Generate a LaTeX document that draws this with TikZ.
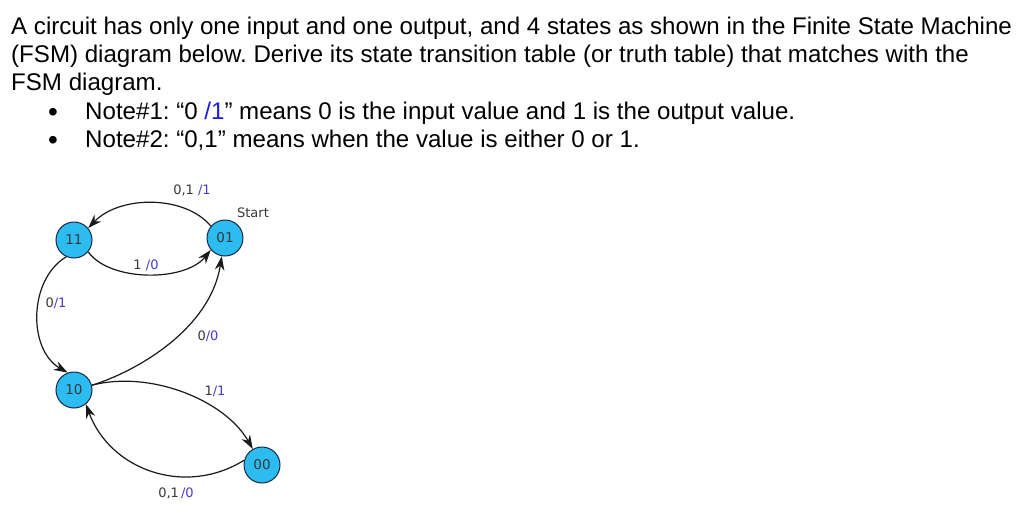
\documentclass[tikz,border=0pt]{standalone}
\usepackage{fontspec}
\setmainfont{Liberation Sans}
\newfontfamily\lblfont{DejaVu Sans}
\usetikzlibrary{arrows.meta}
\frenchspacing
\definecolor{statefill}{RGB}{44,188,240}
\definecolor{lblgray}{RGB}{55,55,60}
\definecolor{lblblue}{RGB}{70,60,205}
\definecolor{titleblue}{RGB}{30,30,225}
\definecolor{edgecol}{RGB}{25,25,25}
\definecolor{statedraw}{RGB}{20,40,70}
\tikzset{
  titletext/.style={anchor=base west, inner sep=0pt, font=\fontsize{24.1}{28}\selectfont},
  bulletmark/.style={anchor=base west, inner sep=0pt, font=\fontsize{28}{30}\selectfont},
  state/.style={circle, draw=statedraw, line width=1pt, fill=statefill, minimum size=36pt, inner sep=0pt, font=\lblfont\fontsize{13.5}{15}\selectfont, text=lblgray},
  edgelbl/.style={inner sep=0pt, font=\lblfont\fontsize{13}{15}\selectfont, text=lblgray},
  trans/.style={draw=edgecol, line width=1.2pt, -{Stealth[length=14pt,width=9.5pt]}}
}
\newcommand{\blu}[1]{\textcolor{lblblue}{#1}}
\begin{document}
\begin{tikzpicture}[x=1pt,y=-1pt]
\useasboundingbox (0,0) rectangle (1024,517);
\fill[white] (0,0) rectangle (1024,517);
% title text
\node[titletext] (t1) at (11,34) {A circuit has only one input and one output, and 4 states as shown in the Finite State Machine};
\node[titletext] (t2) at (11,62) {(FSM) diagram below. Derive its state transition table (or truth table) that matches with the};
\node[titletext] (t3) at (11,90) {FSM diagram.};
\node[bulletmark] (b1) at (48,121) {•};
\node[titletext] (t4) at (85,119) {Note\#1: “0 \textcolor{titleblue}{/1}” means 0 is the input value and 1 is the output value.};
\node[bulletmark] (b2) at (48,149) {•};
\node[titletext] (t5) at (85,147) {Note\#2: “0,1” means when the value is either 0 or 1.};
% states
\node[state] (s11) at (74,240) {11};
\node[state] (s01) at (225,238) {01};
\node[state] (s10) at (74,390) {10};
\node[state] (s00) at (262,465) {00};
% transitions
\draw[trans] (s01.140) .. controls (185,195) and (120,195) .. (s11.40);
\draw[trans] (s11.-40) .. controls (110,282) and (185,282) .. (s01.-140);
\draw[trans] (s11.-115) .. controls (28,280) and (28,350) .. (s10.110);
\draw[trans] (s10.15) .. controls (135,372) and (210,330) .. (s01.-100);
\draw[trans] (s10.15) .. controls (150,370) and (225,400) .. (s00.120);
\draw[trans] (s00.165) .. controls (185,497) and (110,470) .. (s10.-50);
% labels
\node[edgelbl] (l1) at (192,190) {0,1 \blu{/1}};
\node[edgelbl] (lstart) at (253,213) {Start};
\node[edgelbl] (l2) at (146,265) {1 \blu{/0}};
\node[edgelbl] (l3) at (56,303) {0\blu{/1}};
\node[edgelbl] (l4) at (208,336) {0\blu{/0}};
\node[edgelbl] (l5) at (215,391) {1\blu{/1}};
\node[edgelbl] (l6) at (176,493) {0,1\,\blu{/0}};
\end{tikzpicture}
\end{document}
